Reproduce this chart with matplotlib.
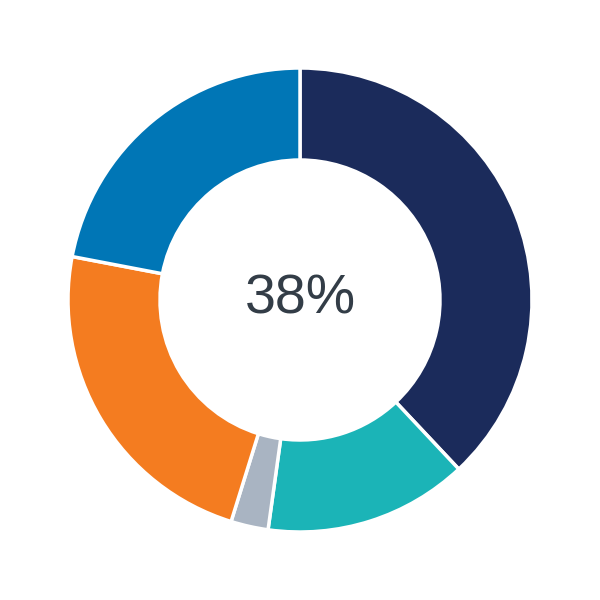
import matplotlib.pyplot as plt

# 各段的占比（顺时针，从12点方向开始）
labels = ['Navy', 'Teal', 'Gray', 'Orange', 'Blue']
values = [38, 14.2, 2.6, 23.2, 22]
colors = ['#1b2b5b', '#1bb4b7', '#a9b4c2', '#f47c20', '#0076b6']
center_text = '38%'

fig = plt.figure(figsize=(6, 6), dpi=100)
ax = fig.add_axes([0, 0, 1, 1])

ax.pie(values, colors=colors, startangle=90, counterclock=False,
       radius=2.32, wedgeprops=dict(width=0.92, edgecolor='white', linewidth=2.5))

ax.text(0, 0, center_text, ha='center', va='center', fontsize=40,
        color='#333d47', family=['Liberation Sans', 'DejaVu Sans'])

ax.set_xlim(-3, 3)
ax.set_ylim(-3, 3)
ax.set_aspect('equal')
ax.axis('off')

plt.savefig('out.png', dpi=100, facecolor='white')
